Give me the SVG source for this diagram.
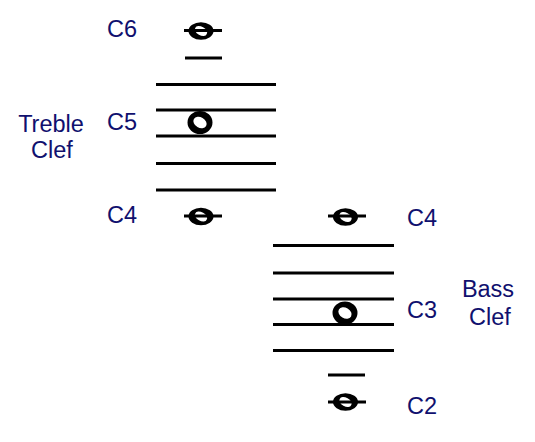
<svg xmlns="http://www.w3.org/2000/svg" width="535" height="442" viewBox="0 0 535 442">
<style>
.lbl{font-family:"Liberation Sans",Arial,sans-serif;font-size:23.5px;fill:#10106e}
.st{stroke:#000;stroke-width:3;fill:none}
.nt{fill:#000;fill-rule:evenodd}
</style>
<defs>
<path id="noteA" class="nt" d="M-12.5 0A12.5 8.7 0 1 0 12.5 0A12.5 8.7 0 1 0 -12.5 0Z M-5.6 -3.2A6.5 3.8 30 1 0 5.6 3.2A6.5 3.8 30 1 0 -5.6 -3.2Z"/>
<path id="noteB" class="nt" d="M-12.5 0A12.5 11.5 0 1 0 12.5 0A12.5 11.5 0 1 0 -12.5 0Z M-6.1 -3.5A7 5.2 30 1 0 6.1 3.5A7 5.2 30 1 0 -6.1 -3.5Z"/>
</defs>
<rect width="535" height="442" fill="#fff"/>
<g id="treble-staff">
<path class="st" d="M156 84.5H276M156 110H276M156 136H276M156 163.5H276M156 190H276"/>
</g>
<g id="bass-staff">
<path class="st" d="M273 245.5H394M273 273H394M273 299H394M273 324.5H394M273 350.5H394"/>
</g>
<g id="note-c6">
<use href="#noteA" x="201" y="31"/>
<path class="st" d="M184 30.5H222M185 58H222"/>
</g>
<g id="note-c5">
<use href="#noteB" x="200" y="122.5"/>
</g>
<g id="note-c4-treble">
<use href="#noteA" x="201" y="216.5"/>
<path class="st" d="M184 216H222"/>
</g>
<g id="note-c4-bass">
<use href="#noteA" x="345.5" y="217"/>
<path class="st" d="M328 216H366"/>
</g>
<g id="note-c3">
<use href="#noteB" x="345" y="313"/>
</g>
<g id="note-c2">
<use href="#noteA" x="345.5" y="402"/>
<path class="st" d="M328 375H365M328 402H366"/>
</g>
<g id="labels">
<text class="lbl" x="107" y="37">C6</text>
<text class="lbl" x="107" y="130">C5</text>
<text class="lbl" x="107" y="223">C4</text>
<text class="lbl" x="51" y="132" text-anchor="middle">Treble</text>
<text class="lbl" x="52" y="158" text-anchor="middle">Clef</text>
<text class="lbl" x="407" y="226">C4</text>
<text class="lbl" x="407" y="318">C3</text>
<text class="lbl" x="407" y="414">C2</text>
<text class="lbl" x="488" y="297" text-anchor="middle">Bass</text>
<text class="lbl" x="490" y="325" text-anchor="middle">Clef</text>
</g>
</svg>
